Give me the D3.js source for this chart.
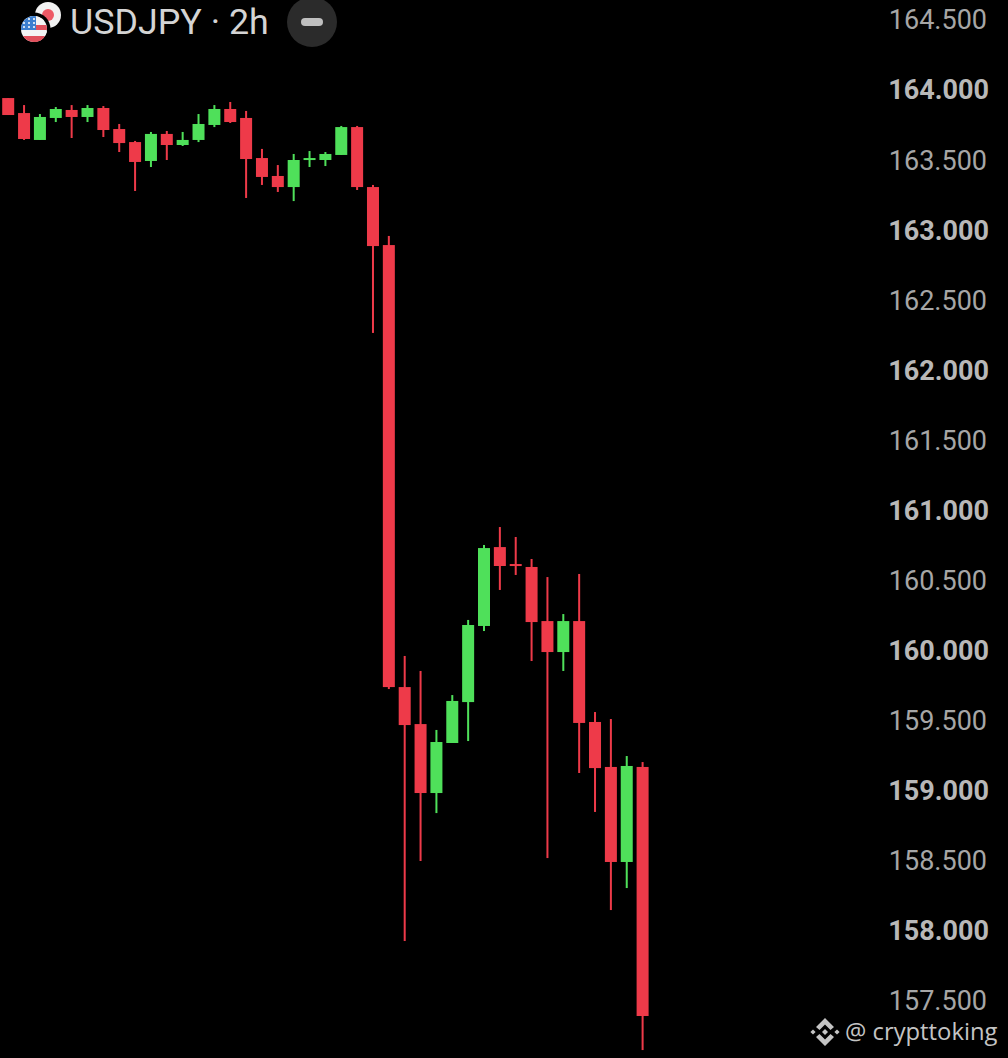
<!DOCTYPE html>
<html><head><meta charset="utf-8">
<script src="https://cdn.jsdelivr.net/npm/d3@7"></script>
<style>html,body{margin:0;padding:0;background:#000;overflow:hidden}svg{display:block}</style>
</head><body><svg id="c" width="1008" height="1058"></svg>
<script>
const opens  = [163.943,163.836,163.644,163.801,163.858,163.808,163.872,163.722,163.629,163.494,163.687,163.608,163.644,163.751,163.865,163.801,163.515,163.387,163.308,163.508,163.501,163.537,163.736,163.308,162.894,159.740,159.476,158.984,159.341,159.633,160.176,160.739,160.618,160.597,160.211,159.990,160.211,159.491,159.170,158.492,159.170];
const highs  = [163.943,163.893,163.829,163.879,163.893,163.893,163.886,163.758,163.637,163.701,163.708,163.701,163.829,163.893,163.915,163.851,163.580,163.465,163.544,163.565,163.558,163.744,163.744,163.323,162.959,159.962,159.855,159.434,159.683,160.219,160.754,160.882,160.811,160.654,160.525,160.261,160.547,159.562,159.512,159.248,159.205];
const lows   = [163.822,163.644,163.644,163.772,163.658,163.772,163.665,163.558,163.280,163.451,163.501,163.601,163.629,163.736,163.765,163.230,163.323,163.273,163.208,163.451,163.458,163.537,163.287,162.267,159.726,157.928,158.499,158.841,159.341,159.355,160.140,160.433,160.540,159.926,158.520,159.855,159.127,158.849,158.149,158.306,157.150];
const closes = [163.822,163.651,163.808,163.865,163.808,163.872,163.715,163.622,163.487,163.687,163.608,163.644,163.758,163.865,163.772,163.508,163.380,163.308,163.501,163.515,163.544,163.736,163.308,162.887,159.740,159.469,158.984,159.348,159.641,160.183,160.732,160.604,160.604,160.204,159.990,160.211,159.484,159.162,158.492,159.177,157.393];
const yTicks = [164.5,164,163.5,163,162.5,162,161.5,161,160.5,160,159.5,159,158.5,158,157.5];
const titleText = "USDJPY · 2h";
const creditText = "@ crypttoking";

const UP = "#4fe05a", DOWN = "#ee3a49";
const svg = d3.select("#c");
svg.append("rect").attr("width",1008).attr("height",1058).attr("fill","#000");

const x = d3.scaleLinear().domain([0, opens.length-1]).range([8.2,642.6]);
const y = d3.scaleLinear().domain([157.5,164.5]).range([1001,20]);

const idx = d3.range(opens.length);
const candle = svg.append("g").selectAll("g").data(idx).join("g")
  .attr("fill", i => closes[i] >= opens[i] ? UP : DOWN);
candle.append("rect").attr("x", i => x(i)-1).attr("width",2)
  .attr("y", i => y(highs[i])).attr("height", i => y(lows[i])-y(highs[i]));
candle.append("rect").attr("x", i => x(i)-6).attr("width",12)
  .attr("y", i => y(Math.max(opens[i],closes[i])))
  .attr("height", i => Math.max(2, Math.abs(y(opens[i])-y(closes[i]))));

const axis = d3.axisRight(y).tickValues(yTicks).tickSize(0).tickFormat(d3.format(".3f"));
const ag = svg.append("g").call(axis);
ag.select(".domain").remove();
ag.selectAll("text")
  .attr("x", d => Number.isInteger(d) ? 989 : 987)
  .attr("dy","0.33em")
  .attr("text-anchor","end")
  .attr("font-family","Roboto")
  .attr("font-size",27)
  .attr("font-weight", d => Number.isInteger(d) ? 700 : 400)
  .attr("fill", d => Number.isInteger(d) ? "#b8b8b8" : "#a6a6a6");

// header
const defs = svg.append("defs");
defs.append("clipPath").attr("id","us").append("circle").attr("cx",34).attr("cy",29).attr("r",13);
const hdr = svg.append("g");
hdr.append("circle").attr("cx",48).attr("cy",15).attr("r",13).attr("fill","#f2f2f2");
hdr.append("circle").attr("cx",48).attr("cy",15).attr("r",6).attr("fill","#ee5a66");
hdr.append("circle").attr("cx",34).attr("cy",29).attr("r",16.5).attr("fill","#000");
const us = hdr.append("g").attr("clip-path","url(#us)");
us.append("rect").attr("x",20).attr("y",15).attr("width",28).attr("height",28).attr("fill","#f4f4f4");
[[25,5],[31,5],[37,6]].forEach(([yy,h]) => us.append("rect").attr("x",34).attr("y",yy).attr("width",14).attr("height",h).attr("fill",yy===31?"#f4f4f4":"#e0505c"));
us.append("rect").attr("x",20).attr("y",36).attr("width",28).attr("height",7).attr("fill","#e0505c");
us.append("rect").attr("x",20).attr("y",15).attr("width",27).attr("height",6).attr("fill","#f4f4f4");
us.append("rect").attr("x",20).attr("y",15).attr("width",16).attr("height",15).attr("fill","#3c7fd0");
[[24,19],[29,19],[34,19],[24,23],[29,23],[34,23],[24,27],[29,27],[34,27]].forEach(([a,b]) => us.append("circle").attr("cx",a).attr("cy",b).attr("r",1).attr("fill","#fff"));

hdr.append("text").text(titleText).attr("x",70).attr("y",34)
  .attr("font-family","Roboto").attr("font-size",35.8).attr("fill","#d4d4d4");
hdr.append("circle").attr("cx",312).attr("cy",22).attr("r",25).attr("fill","#2b2b2b");
hdr.append("rect").attr("x",301).attr("y",18).attr("width",22).attr("height",8).attr("rx",4).attr("fill","#bfbfbf");

// watermark
const wm = svg.append("g").attr("fill","#c4c4c4");
const dm = (cx,cy,r) => wm.append("path").attr("d",`M${cx} ${cy-r}L${cx+r} ${cy}L${cx} ${cy+r}L${cx-r} ${cy}Z`);
dm(813,1032,2.6); dm(837,1032,2.6); dm(825,1032,3);
wm.append("path").attr("d","M825 1018L834 1027L830.5 1030L825 1024.5L819.5 1030L816 1027Z");
wm.append("path").attr("d","M825 1046L834 1037L830.5 1034L825 1039.5L819.5 1034L816 1037Z");
wm.append("text").text(creditText).attr("x",845).attr("y",1040)
  .attr("font-family","Open Sans").attr("font-size",23.8).attr("fill","#c4c4c4");
</script></body></html>
